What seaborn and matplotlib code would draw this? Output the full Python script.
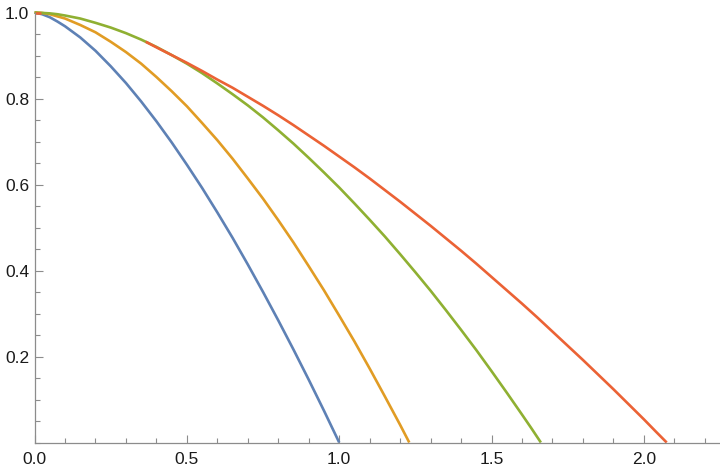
import matplotlib
matplotlib.use("Agg")
import matplotlib.pyplot as plt
from matplotlib.ticker import MultipleLocator, FixedLocator
import pandas as pd
import seaborn as sns

# values
blue_x = [0.0, 0.025, 0.05, 0.075, 0.1, 0.15, 0.2, 0.25, 0.3, 0.35, 0.4, 0.45, 0.5, 0.55,
          0.6, 0.65, 0.7, 0.75, 0.8, 0.85, 0.9, 0.95, 1.0]
blue_y = [1.0, 0.996, 0.989, 0.979, 0.968, 0.942, 0.911, 0.875, 0.836, 0.793, 0.747, 0.698,
          0.646, 0.592, 0.535, 0.476, 0.414, 0.350, 0.284, 0.216, 0.146, 0.074, 0.0]

orange_x = [0.0, 0.025, 0.05, 0.075, 0.1, 0.15, 0.2, 0.25, 0.3, 0.35, 0.4, 0.45, 0.5, 0.55,
            0.6, 0.65, 0.7, 0.75, 0.8, 0.85, 0.9, 0.95, 1.0, 1.05, 1.1, 1.15, 1.2, 1.23]
orange_y = [1.0, 0.999, 0.996, 0.991, 0.986, 0.971, 0.954, 0.932, 0.908, 0.881, 0.850, 0.817,
            0.782, 0.743, 0.703, 0.660, 0.614, 0.567, 0.517, 0.465, 0.410, 0.354, 0.295,
            0.235, 0.172, 0.107, 0.041, 0.0]

green_x = [0.0, 0.025, 0.05, 0.075, 0.1, 0.15, 0.2, 0.25, 0.3, 0.35, 0.4, 0.45, 0.5, 0.55,
           0.6, 0.65, 0.7, 0.75, 0.8, 0.85, 0.9, 0.95, 1.0, 1.05, 1.1, 1.15, 1.2, 1.25, 1.3,
           1.35, 1.4, 1.45, 1.5, 1.55, 1.6, 1.63, 1.662]
green_y = [1.0, 0.999, 0.998, 0.996, 0.993, 0.986, 0.976, 0.965, 0.952, 0.937, 0.920, 0.901,
           0.881, 0.859, 0.835, 0.810, 0.784, 0.756, 0.726, 0.695, 0.662, 0.628, 0.593,
           0.556, 0.518, 0.479, 0.438, 0.396, 0.353, 0.308, 0.262, 0.215, 0.166, 0.116,
           0.065, 0.034, 0.0]

# red shows a short stub at the origin, then reappears from x ~ 0.365
red_x = [0.0, 0.02, 0.365, 0.4, 0.45, 0.5, 0.55, 0.6, 0.65, 0.7, 0.75, 0.8, 0.85, 0.9, 0.95,
         1.0, 1.05, 1.1, 1.15, 1.2, 1.25, 1.3, 1.35, 1.4, 1.45, 1.5, 1.55, 1.6, 1.65, 1.7,
         1.75, 1.8, 1.85, 1.9, 1.95, 2.0, 2.04, 2.075]
red_y = [1.0, 1.0, 0.932, 0.919, 0.901, 0.883, 0.864, 0.844, 0.825, 0.804, 0.783, 0.761,
         0.738, 0.714, 0.690, 0.665, 0.640, 0.614, 0.587, 0.560, 0.532, 0.504, 0.475, 0.446,
         0.416, 0.385, 0.354, 0.323, 0.291, 0.258, 0.225, 0.192, 0.158, 0.124, 0.089,
         0.054, 0.025, 0.0]
red_seg = [0, 0] + [1] * (len(red_x) - 2)

x_tick_labels = ["0.0", "0.5", "1.0", "1.5", "2.0"]
y_tick_labels = ["0.2", "0.4", "0.6", "0.8", "1.0"]

palette = {"blue": "#5E81B5", "orange": "#E19C24", "green": "#8FB032", "red": "#EB6235"}


def build_frame():
    parts = []
    for name, xs, ys, seg in [
        ("blue", blue_x, blue_y, [0] * len(blue_x)),
        ("orange", orange_x, orange_y, [0] * len(orange_x)),
        ("green", green_x, green_y, [0] * len(green_x)),
        ("red", red_x, red_y, red_seg),
    ]:
        parts.append(pd.DataFrame({"x": xs, "y": ys, "series": name, "seg": seg}))
    return pd.concat(parts, ignore_index=True)


def main():
    sns.set_style("ticks")
    plt.rcParams["font.family"] = ["Liberation Sans", "DejaVu Sans"]

    df = build_frame()

    fig = plt.figure(figsize=(7.2, 4.72), dpi=100)
    ax = fig.add_axes([0.048, 0.0625, 0.952, 0.911])

    sns.lineplot(
        data=df, x="x", y="y", hue="series", units="seg", estimator=None,
        sort=False, palette=palette, hue_order=["blue", "orange", "green", "red"],
        linewidth=1.9, legend=False, ax=ax,
    )
    for line in ax.lines:
        line.set_clip_on(False)
        line.set_solid_capstyle("butt")
        line.set_solid_joinstyle("round")

    ax.set_xlim(0, 2.25)
    ax.set_ylim(0, 1.0)
    ax.set_xlabel("")
    ax.set_ylabel("")

    ax.xaxis.set_major_locator(FixedLocator([0.0, 0.5, 1.0, 1.5, 2.0]))
    ax.set_xticklabels(x_tick_labels)
    ax.xaxis.set_minor_locator(MultipleLocator(0.1))
    ax.yaxis.set_major_locator(FixedLocator([0.2, 0.4, 0.6, 0.8, 1.0]))
    ax.set_yticklabels(y_tick_labels)
    ax.yaxis.set_minor_locator(MultipleLocator(0.05))

    ax.tick_params(which="both", direction="in", color="#8c8c8c", width=0.8, labelsize=12.5,
                   labelcolor="#1a1a1a")
    ax.tick_params(which="major", length=5.5)
    ax.tick_params(which="minor", length=3.5)
    ax.tick_params(axis="x", which="major", pad=7)
    ax.tick_params(axis="y", which="major", pad=4)

    for side in ["top", "right"]:
        ax.spines[side].set_visible(False)
    for side in ["left", "bottom"]:
        ax.spines[side].set_color("#8c8c8c")
        ax.spines[side].set_linewidth(0.9)

    fig.savefig("out.png", dpi=100)


if __name__ == "__main__":
    main()
